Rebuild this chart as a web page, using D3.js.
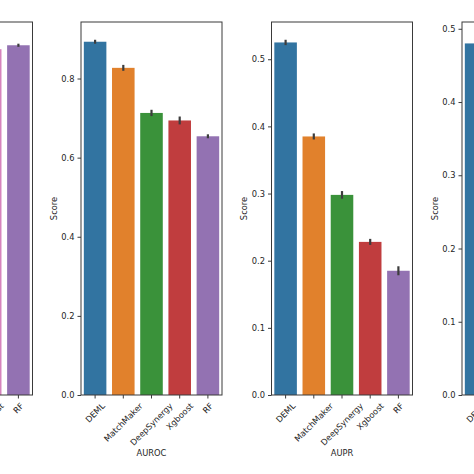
<!DOCTYPE html>
<html>
<head>
<meta charset="utf-8">
<script src="https://cdn.jsdelivr.net/npm/d3@7"></script>
<style>
  body { margin: 0; background: #fff; }
  text { font-family: "DejaVu Sans", sans-serif; fill: #262626; }
</style>
</head>
<body>
<script>
// models on the x axis of every panel
const models = ["DEML", "MatchMaker", "DeepSynergy", "Xgboost", "RF"];

// panel metrics (first and last panels are cut off by the crop)
const metrics = ["ACC", "AUROC", "AUPR", "F1"];

// mean scores and error bar half-widths, per panel
const accScores = [0.900, 0.893, 0.889, 0.881, 0.891];
const accErr = [0.005, 0.005, 0.005, 0.004, 0.004];
const aurocScores = [0.893, 0.827, 0.713, 0.694, 0.654];
const aurocErr = [0.005, 0.0075, 0.008, 0.010, 0.005];
const auprScores = [0.525, 0.385, 0.298, 0.228, 0.185];
const auprErr = [0.004, 0.0045, 0.0057, 0.0045, 0.0067];
const f1Scores = [0.480, 0.410, 0.350, 0.300, 0.270];
const f1Err = [0.005, 0.006, 0.006, 0.006, 0.006];

// y tick values per panel
const accTicks = [0.0, 0.2, 0.4, 0.6, 0.8];
const aurocTicks = [0.0, 0.2, 0.4, 0.6, 0.8];
const auprTicks = [0.0, 0.1, 0.2, 0.3, 0.4, 0.5];
const f1Ticks = [0.0, 0.1, 0.2, 0.3, 0.4, 0.5];

const deep = ["#3274a1", "#e1812c", "#3a923a", "#c03d3e", "#9372b2"];
const leftColors = ["#3274a1", "#e1812c", "#3a923a", "#d684bd", "#9372b2"];

const panels = [
  { label: metrics[0], values: accScores, err: accErr, ticks: accTicks, colors: leftColors },
  { label: metrics[1], values: aurocScores, err: aurocErr, ticks: aurocTicks, colors: deep },
  { label: metrics[2], values: auprScores, err: auprErr, ticks: auprTicks, colors: deep },
  { label: metrics[3], values: f1Scores, err: f1Err, ticks: f1Ticks, colors: deep }
];

// layout
const panelLefts = [-108.5, 81, 271.5, 462];
const plotTop = 22, plotBottom = 395, axW = 141;
const fontSize = 8.3;

const svg = d3.select("body").append("svg")
  .attr("width", 474)
  .attr("height", 474);

panels.forEach((p, i) => {
  const x0 = panelLefts[i];
  const rows = models.map((m, j) => ({ model: m, value: p.values[j], err: p.err[j], color: p.colors[j] }));

  const xScale = d3.scaleBand()
    .domain(models)
    .range([x0, x0 + axW])
    .paddingInner(0.2)
    .paddingOuter(0.1);

  const yMax = d3.max(rows, d => d.value + d.err) * 1.05;
  const yScale = d3.scaleLinear()
    .domain([0, yMax])
    .range([plotBottom, plotTop]);

  const g = svg.append("g");

  // bars
  g.selectAll(".bar")
    .data(rows)
    .enter()
    .append("rect")
    .attr("class", "bar")
    .attr("x", d => xScale(d.model))
    .attr("y", d => yScale(d.value))
    .attr("width", xScale.bandwidth())
    .attr("height", d => plotBottom - yScale(d.value))
    .attr("fill", d => d.color);

  // error bars
  g.selectAll(".err")
    .data(rows)
    .enter()
    .append("line")
    .attr("class", "err")
    .attr("x1", d => xScale(d.model) + xScale.bandwidth() / 2)
    .attr("x2", d => xScale(d.model) + xScale.bandwidth() / 2)
    .attr("y1", d => yScale(d.value - d.err))
    .attr("y2", d => yScale(d.value + d.err))
    .attr("stroke", "#3d3d3d")
    .attr("stroke-width", 2.2);

  // frame
  g.append("rect")
    .attr("x", x0)
    .attr("y", plotTop)
    .attr("width", axW)
    .attr("height", plotBottom - plotTop)
    .attr("fill", "none")
    .attr("stroke", "#3a3a3a")
    .attr("stroke-width", 1);

  // y axis
  const yAxis = d3.axisLeft(yScale)
    .tickValues(p.ticks)
    .tickFormat(d3.format(".1f"))
    .tickSize(3.5)
    .tickPadding(3);

  const yg = g.append("g")
    .attr("transform", `translate(${x0},0)`)
    .call(yAxis);
  yg.select(".domain").remove();
  yg.selectAll("line").attr("stroke", "#3a3a3a");
  yg.selectAll("text").style("font-size", fontSize + "px").attr("fill", "#222");

  // x axis with 45 degree labels centred on the tick
  const xAxis = d3.axisBottom(xScale).tickSize(3.5);
  const xg = g.append("g")
    .attr("transform", `translate(0,${plotBottom})`)
    .call(xAxis);
  xg.select(".domain").remove();
  xg.selectAll("line").attr("stroke", "#3a3a3a");
  xg.selectAll("text")
    .style("font-size", fontSize + "px")
    .attr("fill", "#222")
    .attr("text-anchor", "middle")
    .attr("y", 0)
    .attr("dy", "0.35em")
    .attr("transform", function() {
      const w = this.getComputedTextLength();
      const h = fontSize * 1.16;
      const off = 6 + (w + h) / (2 * Math.SQRT2);
      return `translate(0,${off}) rotate(-45)`;
    });

  // axis titles
  g.append("text")
    .attr("x", x0 + axW / 2)
    .attr("y", 456)
    .attr("text-anchor", "middle")
    .style("font-size", fontSize + "px")
    .text(p.label);

  g.append("text")
    .attr("transform", `translate(${x0 - 27},${(plotTop + plotBottom) / 2}) rotate(-90)`)
    .attr("text-anchor", "middle")
    .attr("dy", "0.35em")
    .style("font-size", fontSize + "px")
    .text("Score");
});
</script>
</body>
</html>
